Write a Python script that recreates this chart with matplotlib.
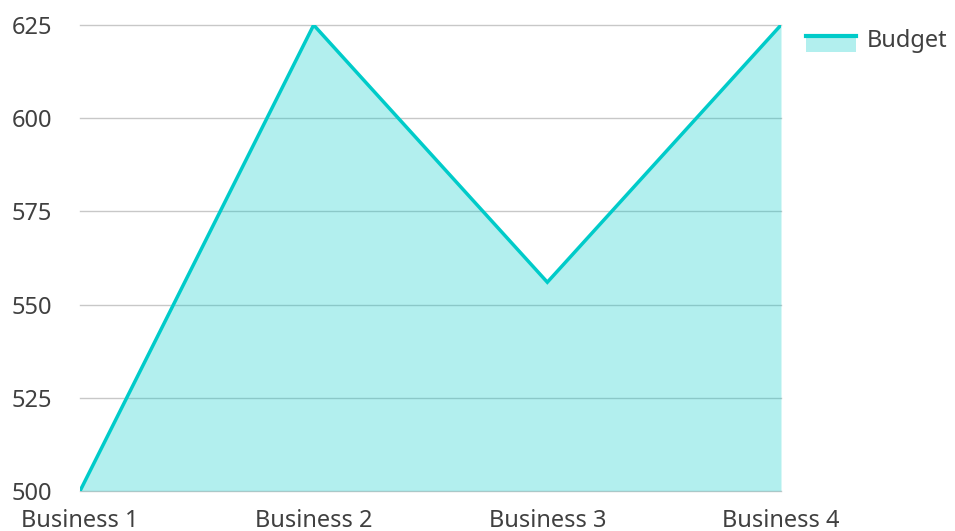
import matplotlib
matplotlib.use("Agg")
import matplotlib.pyplot as plt
from matplotlib.legend_handler import HandlerBase
from matplotlib.patches import Rectangle
from matplotlib.lines import Line2D

categories = ["Business 1", "Business 2", "Business 3", "Business 4"]
budget = [500, 625, 556, 625]
yticks = [500, 525, 550, 575, 600, 625]

LINE = "#00cbc9"
TEXT = "#404040"

plt.rcParams["font.family"] = ["Noto Sans", "DejaVu Sans"]


class AreaHandler(HandlerBase):
    # filled box with the line drawn along its top edge
    def create_artists(self, legend, orig, xd, yd, width, height, fontsize, trans):
        box = Rectangle((xd, yd - 0.35 * height), width, height * 1.0,
                        facecolor=LINE, alpha=0.3, edgecolor="none", transform=trans)
        top = yd - 0.35 * height + height
        ln = Line2D([xd, xd + width], [top, top], color=LINE, lw=3, transform=trans)
        return [box, ln]


fig = plt.figure(figsize=(9.55, 5.31), dpi=100)
ax = fig.add_axes([80 / 955, 1 - 491 / 531, 701 / 955, 466 / 531])

x = list(range(len(categories)))
ax.fill_between(x, budget, yticks[0], color=LINE, alpha=0.3, lw=0, zorder=2)
line, = ax.plot(x, budget, color=LINE, lw=2.5, zorder=3, solid_joinstyle="miter")

ax.set_xlim(0, len(categories) - 1)
ax.set_ylim(500, 625)
ax.set_yticks(yticks)
ax.set_xticks(x)
ax.set_xticklabels(categories)
ax.grid(axis="y", color="#c8c8c8", lw=1, zorder=1)
ax.set_axisbelow(True)
for gl in ax.get_ygridlines():
    gl.set_clip_on(False)
for s in ax.spines.values():
    s.set_visible(False)
ax.tick_params(axis="y", length=0, pad=20, labelsize=17, labelcolor=TEXT)
ax.tick_params(axis="x", length=0, pad=13, labelsize=17, labelcolor=TEXT)

ax.legend([line], ["Budget"], handler_map={Line2D: AreaHandler()},
          loc="upper left", bbox_to_anchor=(1.006, 1.038), frameon=False,
          fontsize=17, handlelength=2.1, handletextpad=0.45,
          labelcolor=TEXT)

fig.savefig("out.png", dpi=100)
